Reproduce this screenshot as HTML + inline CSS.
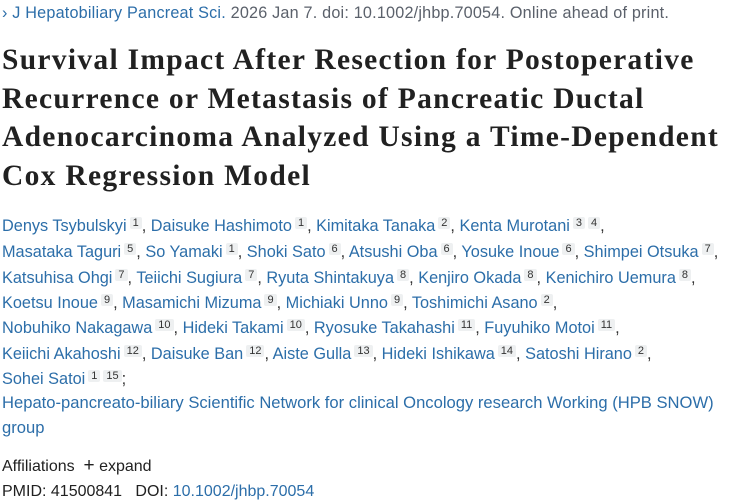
<!DOCTYPE html>
<html><head><meta charset="utf-8"><style>
body{margin:0;width:750px;height:500px;overflow:hidden;background:#fff;font-family:"Liberation Sans",sans-serif;position:relative}
.l{position:absolute;left:2px;white-space:nowrap}
.meta{top:4px;font-size:16.2px;color:#5b616b;letter-spacing:0.2px}
.meta a{color:#2c6ea9;text-decoration:none}
h1{position:absolute;left:2px;top:41px;margin:0;font-family:"Liberation Serif",serif;font-weight:bold;font-size:29.5px;line-height:38.5px;color:#212121;letter-spacing:1.3px}
.au{font-size:16.3px;color:#2c6ea9;height:25px;line-height:25px}
.au a{color:#2c6ea9;text-decoration:none}
sup{font-size:11px;color:#333;background:#eef0f1;padding:0 3px;margin-left:3px;vertical-align:5px;border-radius:2px}
.c{color:#333}
.gr{font-size:16px;color:#212121}
.gr a{color:#2c6ea9;text-decoration:none}
</style></head><body>
<div class="l meta"><a href="#">&#8250; J Hepatobiliary Pancreat Sci.</a> 2026 Jan 7. doi: 10.1002/jhbp.70054. Online ahead of print.</div>
<h1>Survival Impact After Resection for Postoperative<br>Recurrence or Metastasis of Pancreatic Ductal<br>Adenocarcinoma Analyzed Using a Time-Dependent<br>Cox Regression Model</h1>
<div>
<div class="l au" style="top:211px"><a href="#">Denys Tsybulskyi</a><sup>1</sup><span class="c">, </span><a href="#">Daisuke Hashimoto</a><sup>1</sup><span class="c">, </span><a href="#">Kimitaka Tanaka</a><sup>2</sup><span class="c">, </span><a href="#">Kenta Murotani</a><sup>3</sup><sup>4</sup><span class="c">,</span></div>
<div class="l au" style="top:237px"><a href="#">Masataka Taguri</a><sup>5</sup><span class="c">, </span><a href="#">So Yamaki</a><sup>1</sup><span class="c">, </span><a href="#">Shoki Sato</a><sup>6</sup><span class="c">, </span><a href="#">Atsushi Oba</a><sup>6</sup><span class="c">, </span><a href="#">Yosuke Inoue</a><sup>6</sup><span class="c">, </span><a href="#">Shimpei Otsuka</a><sup>7</sup><span class="c">,</span></div>
<div class="l au" style="top:263px"><a href="#">Katsuhisa Ohgi</a><sup>7</sup><span class="c">, </span><a href="#">Teiichi Sugiura</a><sup>7</sup><span class="c">, </span><a href="#">Ryuta Shintakuya</a><sup>8</sup><span class="c">, </span><a href="#">Kenjiro Okada</a><sup>8</sup><span class="c">, </span><a href="#">Kenichiro Uemura</a><sup>8</sup><span class="c">,</span></div>
<div class="l au" style="top:288px"><a href="#">Koetsu Inoue</a><sup>9</sup><span class="c">, </span><a href="#">Masamichi Mizuma</a><sup>9</sup><span class="c">, </span><a href="#">Michiaki Unno</a><sup>9</sup><span class="c">, </span><a href="#">Toshimichi Asano</a><sup>2</sup><span class="c">,</span></div>
<div class="l au" style="top:313px"><a href="#">Nobuhiko Nakagawa</a><sup>10</sup><span class="c">, </span><a href="#">Hideki Takami</a><sup>10</sup><span class="c">, </span><a href="#">Ryosuke Takahashi</a><sup>11</sup><span class="c">, </span><a href="#">Fuyuhiko Motoi</a><sup>11</sup><span class="c">,</span></div>
<div class="l au" style="top:339px"><a href="#">Keiichi Akahoshi</a><sup>12</sup><span class="c">, </span><a href="#">Daisuke Ban</a><sup>12</sup><span class="c">, </span><a href="#">Aiste Gulla</a><sup>13</sup><span class="c">, </span><a href="#">Hideki Ishikawa</a><sup>14</sup><span class="c">, </span><a href="#">Satoshi Hirano</a><sup>2</sup><span class="c">,</span></div>
<div class="l au" style="top:364px"><a href="#">Sohei Satoi</a><sup>1</sup><sup>15</sup><span class="c">;</span></div>
<div class="l au" style="top:390px;font-size:16.6px"><a href="#">Hepato-pancreato-biliary Scientific Network for clinical Oncology research Working (HPB SNOW)</a></div>
<div class="l au" style="top:415px;font-size:16.6px"><a href="#">group</a></div>
</div>
<div class="l gr" style="top:455px">Affiliations &nbsp;<span style="font-size:19px">+</span> expand</div>
<div class="l gr" style="top:483px">PMID: 41500841 &nbsp; DOI: <a href="#">10.1002/jhbp.70054</a></div>
</body></html>
